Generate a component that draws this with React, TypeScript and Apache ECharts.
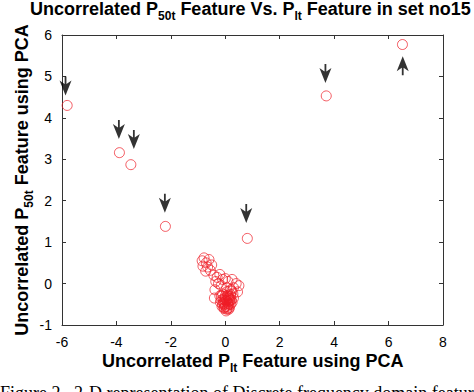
import React, { useEffect, useRef } from "react";
import * as echarts from "echarts";

// Outlier points (marked with arrows)
const outlierX = [-5.81, -3.89, -3.47, -2.2, 0.81, 3.71, 6.51];
const outlierY = [4.3, 3.16, 2.87, 1.38, 1.09, 4.53, 5.77];

// Cluster points near the origin
const clusterX = [
  -0.85, -0.78, -0.7, -0.6, -0.82, -0.65, -0.5, -0.72, -0.55,
  -0.42, -0.3, -0.2, -0.1, -0.35, -0.25, 0.0, 0.1, 0.25, 0.4, 0.5, 0.3, -0.15, 0.05, 0.2, -0.38, 0.45,
  -0.4, -0.2, -0.1, 0.0, 0.1, 0.2, 0.3, -0.15, -0.05, 0.05, 0.15, 0.25, -0.1, 0.0, 0.1, 0.2, -0.05, 0.05,
  0.15, 0.0, 0.08, -0.02, 0.12, -0.12, 0.18, 0.05,
  -0.08, 0.02, 0.1, 0.16, 0.22, -0.04, 0.06, 0.14, -0.14, 0.28, 0.03, 0.09, -0.06, 0.19, 0.11, -0.01,
  0.24, -0.18, 0.07, 0.13,
];
const clusterY = [
  0.55, 0.62, 0.5, 0.58, 0.42, 0.4, 0.45, 0.3, 0.32,
  0.2, 0.15, 0.22, 0.1, 0.05, 0.0, 0.12, 0.05, 0.1, 0.0, -0.05, -0.1, -0.05, -0.1, -0.15, -0.15, -0.2,
  -0.35, -0.3, -0.25, -0.3, -0.28, -0.3, -0.35, -0.4, -0.45, -0.4, -0.42, -0.45, -0.5, -0.55, -0.52, -0.5, -0.6, -0.62,
  -0.58, -0.35, -0.45, -0.5, -0.35, -0.55, -0.4, -0.2,
  -0.38, -0.42, -0.48, -0.36, -0.4, -0.58, -0.56, -0.5, -0.3, -0.25, -0.66, -0.6, -0.48, -0.26, -0.32, -0.4,
  -0.18, -0.45, -0.3, -0.62,
];

// Arrow annotations (center positions, direction)
const arrowX = [-5.87, -3.91, -3.36, -2.22, 0.77, 3.68, 6.52];
const arrowY = [4.77, 3.72, 3.48, 1.94, 1.69, 5.07, 5.26];
const arrowUp = [false, false, false, false, false, false, true];

const xMin = -6, xMax = 8, xStep = 2;
const yMin = -1, yMax = 6, yStep = 1;

const titleText = "{m|Uncorrelated P}{s|50t}{m| Feature Vs. P}{s|lt}{m| Feature in set no15}";
const xLabelText = "{m|Uncorrelated P}{s|lt}{m| Feature using PCA}";
const yLabelText = "{m|Uncorrelated P}{s|50t}{m| Feature using PCA}";
const captionText = "Figure 2.  2-D representation of Discrete frequency domain features";

const FONT = "'Liberation Sans', Arial, sans-serif";
const ARROW = "path://M5.1,0 L6.9,0 L6.9,7.5 L12,4 L6,19 L0,4 L5.1,7.5 Z";

const richStyle = {
  m: { fontFamily: FONT, fontWeight: "bold", fontSize: 18, lineHeight: 26, color: "#000", verticalAlign: "middle" },
  s: { fontFamily: FONT, fontWeight: "bold", fontSize: 12, lineHeight: 12, color: "#000", verticalAlign: "bottom" },
};

export default function App() {
  const ref = useRef<HTMLDivElement>(null);
  useEffect(() => {
    if (!ref.current) return;
    const chart = echarts.init(ref.current, undefined, { renderer: "svg" });
    const axisLine = { show: true, onZero: false, lineStyle: { color: "#333", width: 1 } };
    const axisTick = { show: true, inside: true, length: 4, lineStyle: { color: "#333" } };
    const label = { fontFamily: FONT, fontSize: 14, color: "#000" };
    const circleStyle = { color: "rgba(0,0,0,0)", borderColor: "#ee1c25", borderWidth: 0.9 };
    chart.setOption({
      animation: false,
      backgroundColor: "#fff",
      grid: { left: 62, top: 35, width: 381, height: 290, containLabel: false },
      xAxis: [
        {
          type: "value", min: xMin, max: xMax, interval: xStep, position: "bottom",
          axisLine, axisTick, splitLine: { show: false },
          axisLabel: { ...label, margin: 10 },
        },
        {
          type: "value", min: xMin, max: xMax, interval: xStep, position: "top",
          axisLine, axisTick, splitLine: { show: false }, axisLabel: { show: false },
        },
      ],
      yAxis: [
        {
          type: "value", min: yMin, max: yMax, interval: yStep, position: "left",
          axisLine, axisTick, splitLine: { show: false },
          axisLabel: { ...label, margin: 10 },
        },
        {
          type: "value", min: yMin, max: yMax, interval: yStep, position: "right",
          axisLine, axisTick, splitLine: { show: false }, axisLabel: { show: false },
        },
      ],
      series: [
        {
          type: "scatter",
          symbol: "circle",
          symbolSize: 10,
          itemStyle: circleStyle,
          data: clusterX.map((x, i) => [x, clusterY[i]]),
        },
        {
          type: "scatter",
          symbol: "circle",
          symbolSize: 10,
          itemStyle: circleStyle,
          data: outlierX.map((x, i) => [x, outlierY[i]]),
        },
        {
          type: "scatter",
          symbol: ARROW,
          symbolSize: [12, 19],
          itemStyle: { color: "#000" },
          data: arrowX.map((x, i) => ({ value: [x, arrowY[i]], symbolRotate: arrowUp[i] ? 180 : 0 })),
        },
      ],
      graphic: [
        {
          type: "text", left: 30, top: 0,
          style: { text: titleText, rich: richStyle },
        },
        {
          type: "text", left: 102, top: 352,
          style: { text: xLabelText, rich: richStyle },
        },
        {
          type: "text", x: 21.5, y: 180, rotation: Math.PI / 2,
          style: { text: yLabelText, rich: richStyle, align: "center", verticalAlign: "middle" },
        },
        {
          type: "text", left: 0, top: 384,
          style: { text: captionText, font: "18px 'Liberation Serif', 'Times New Roman', serif", fill: "#000" },
        },
      ],
    });
    return () => chart.dispose();
  }, []);
  return <div ref={ref} style={{ width: 474, height: 392, position: "absolute", left: 0, top: 0 }} />;
}
